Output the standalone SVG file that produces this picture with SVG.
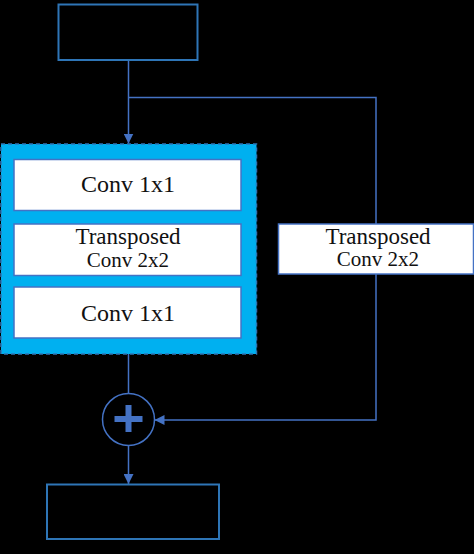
<svg xmlns="http://www.w3.org/2000/svg" width="474" height="554" viewBox="0 0 474 554">
<defs>
<style>
.io{fill:none;stroke:#2E75B6;stroke-width:2}
.blk{fill:#ffffff;stroke:#4472C4;stroke-width:1.5}
.ln{fill:none;stroke:#4472C4;stroke-width:1.5}
.t{font-family:"Liberation Serif","Times New Roman",serif;fill:#111111;text-anchor:middle}
</style>
<marker id="ah" viewBox="0 0 10 10" refX="10" refY="5" markerWidth="10" markerHeight="10" markerUnits="userSpaceOnUse" orient="auto">
<path d="M0,0 L10,5 L0,10 Z" fill="#4472C4"/>
</marker>
</defs>
<rect width="474" height="554" fill="#000000"/>
<g id="connectors">
<path class="ln" d="M128.5,60 V143.5" marker-end="url(#ah)"/>
<path class="ln" d="M128.5,97.5 H376 V224"/>
<path class="ln" d="M376,274 V420 H154.5" marker-end="url(#ah)"/>
<path class="ln" d="M128.5,354 V393.5"/>
<path class="ln" d="M128.5,445.5 V484" marker-end="url(#ah)"/>
</g>
<g id="input"><rect class="io" x="58.5" y="4.5" width="139" height="55.5"/></g>
<g id="block">
<rect x="1" y="144" width="255.5" height="210" fill="#00B0F0" stroke="#2E75B6" stroke-width="1.5" stroke-dasharray="4 3"/>
</g>
<g id="conv1"><rect class="blk" x="14" y="159.5" width="227" height="51"/><text class="t" x="128" y="192" font-size="24">Conv 1x1</text></g>
<g id="tconv"><rect class="blk" x="14" y="224" width="227" height="51.5"/><text class="t" x="128" y="244" font-size="23">Transposed</text><text class="t" x="128" y="267" font-size="21">Conv 2x2</text></g>
<g id="conv2"><rect class="blk" x="14" y="287" width="227" height="51"/><text class="t" x="128" y="321" font-size="24">Conv 1x1</text></g>
<g id="skip"><rect class="blk" x="278.5" y="224" width="195" height="50"/><text class="t" x="378" y="244" font-size="23">Transposed</text><text class="t" x="378" y="266" font-size="21">Conv 2x2</text></g>
<g id="add">
<circle cx="128.5" cy="419.5" r="26" fill="none" stroke="#4472C4" stroke-width="1.5"/>
<path d="M114.5,419 H142.5 M128.5,405 V432" stroke="#4472C4" stroke-width="6" fill="none"/>
</g>
<g id="output"><rect class="io" x="47" y="484.5" width="172" height="54.5"/></g>
</svg>
